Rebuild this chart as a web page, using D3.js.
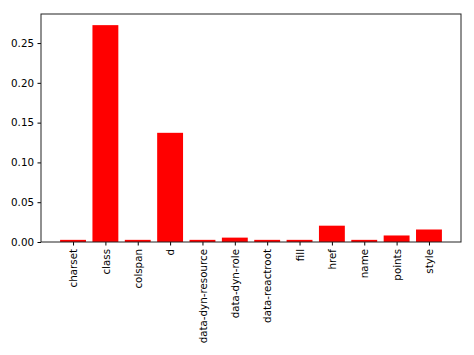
<!DOCTYPE html>
<html>
<head>
<meta charset="utf-8">
<script src="https://cdn.jsdelivr.net/npm/d3@7"></script>
<style>
  body { margin: 0; background: #fff; }
  text { font-family: "DejaVu Sans", sans-serif; }
</style>
</head>
<body>
<div id="chart"></div>
<script>
// attribute names and their share
var categories = ["charset", "class", "colspan", "d", "data-dyn-resource", "data-dyn-role",
    "data-reactroot", "fill", "href", "name", "points", "style"]
var values = [0.0027, 0.2725, 0.0027, 0.1372, 0.0027, 0.0055,
    0.0027, 0.0027, 0.0205, 0.0027, 0.0082, 0.0157]
var yTicks = [0, 0.05, 0.10, 0.15, 0.20, 0.25]

var width = 474, height = 355
var margin = {left: 41, right: 13, top: 14, bottom: 113}

var svg = d3.select("#chart").append("svg")
    .attr("width", width)
    .attr("height", height)

// matplotlib style: bars of width 0.8, 5% margins on each side
var n = categories.length
var lo = -0.4, hi = n - 1 + 0.4, pad = (hi - lo) * 0.05
var x = d3.scaleLinear()
    .domain([lo - pad, hi + pad])
    .range([margin.left, width - margin.right])

var y = d3.scaleLinear()
    .domain([0, 0.2865])
    .range([height - margin.bottom, margin.top])

svg.append("g")
    .selectAll("rect")
    .data(values)
    .enter()
    .append("rect")
    .attr("x", function(d, i) { return x(i - 0.4) })
    .attr("width", function(d, i) { return x(i + 0.4) - x(i - 0.4) })
    .attr("y", function(d) { return y(d) })
    .attr("height", function(d) { return y(0) - y(d) })
    .style("fill", "red")

// axes
var xAxis = svg.append("g")
    .attr("transform", "translate(0," + (height - margin.bottom) + ")")
    .call(d3.axisBottom(x)
        .tickValues(d3.range(n))
        .tickFormat(function(i) { return categories[i] })
        .tickSize(3.5)
        .tickPadding(3.5))
xAxis.select(".domain").remove()
xAxis.selectAll("text")
    .attr("transform", "rotate(-90)")
    .attr("text-anchor", "end")
    .attr("x", -7)
    .attr("y", 0)
    .attr("dy", "0.35em")
    .attr("font-size", 10.3)
    .attr("fill", "#000")

var yAxis = svg.append("g")
    .attr("transform", "translate(" + margin.left + ",0)")
    .call(d3.axisLeft(y)
        .tickValues(yTicks)
        .tickFormat(d3.format(".2f"))
        .tickSize(3.5)
        .tickPadding(3.5))
yAxis.select(".domain").remove()
yAxis.selectAll("text")
    .attr("font-size", 10.3)
    .attr("fill", "#000")

// frame
svg.append("rect")
    .attr("x", margin.left)
    .attr("y", margin.top)
    .attr("width", width - margin.left - margin.right)
    .attr("height", height - margin.top - margin.bottom)
    .style("fill", "none")
    .style("stroke", "#222")
    .style("stroke-width", 1)
</script>
</body>
</html>
